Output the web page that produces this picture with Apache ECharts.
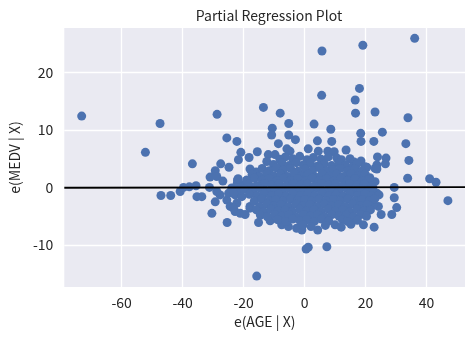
<!DOCTYPE html>
<html>
<head>
<meta charset="utf-8">
<title>Partial Regression Plot</title>
<script src="https://cdn.jsdelivr.net/npm/echarts@6/dist/echarts.min.js"></script>
<style>
  html, body { margin: 0; padding: 0; background: #ffffff; }
  #chart { width: 474px; height: 339px; }
</style>
</head>
<body>
<div id="chart"></div>
<script>
// Residual pairs [e(AGE | X), e(MEDV | X)], grouped by region of the plot.
const upperPoints = [
  [-73.1, 12.4], [-47.4, 11.1], [-52.2, 6.1], [-36.8, 4.1], [-28.7, 12.7],
  [5.7, 23.7], [5.6, 16.0], [-13.5, 13.9], [-8.0, 12.9], [-5.2, 11.1],
  [3.1, 11.0], [8.6, 10.1], [-10.6, 10.3], [-10.8, 9.1], [-25.5, 8.6],
  [-22.2, 8.0], [-5.2, 9.1], [-3.0, 8.3], [-8.6, 7.6], [4.2, 8.1],
  [8.9, 8.0], [-20.9, 6.1], [-15.5, 6.2], [-18.2, 5.2], [-21.7, 4.8],
  [-27.5, 4.1], [-5.8, 6.7], [-4.8, 6.3], [1.2, 6.7], [4.5, 6.3],
  [7.6, 6.3], [-11.9, 5.7], [-9.7, 5.7], [-24.8, 3.5], [-29.3, 2.9],
  [-12.4, 4.5], [-17.9, 3.2], [-15.9, 2.7]
];
const rightPoints = [
  [36.1, 25.9], [19.1, 24.7], [18.0, 17.2], [16.6, 15.2], [16.7, 12.9],
  [23.1, 13.1], [33.9, 12.1], [25.5, 9.6], [18.4, 9.4], [18.5, 8.0],
  [22.7, 8.0], [33.2, 7.6], [13.6, 6.5], [9.7, 6.2], [10.6, 5.1],
  [23.9, 5.3], [26.7, 5.1], [18.5, 4.6], [34.2, 4.7], [26.5, 4.1],
  [20.4, 3.5], [23.1, 3.3], [41.0, 1.5], [33.8, 1.6], [43.1, 0.9],
  [47.0, -2.3], [29.4, 0.0], [29.4, -1.8], [30.2, -3.5], [28.6, -4.7],
  [25.1, -4.7], [22.8, -6.9], [19.3, -6.5], [15.2, -6.4], [10.0, -6.5],
  [4.3, -7.4], [-0.9, -7.4], [23.7, -1.0], [24.2, -3.3], [23.1, 1.0],
  [24.4, -1.3], [22.6, -3.0], [23.7, 3.9], [23.7, 3.2], [19.8, 3.6],
  [22.0, 1.0]
];
const leftPoints = [
  [-47.1, -1.4], [-43.9, -1.4], [-40.8, -0.7], [-39.7, 0.0], [-37.8, 0.1],
  [-35.6, 0.3], [-35.3, -1.6], [-33.7, -1.6], [-31.2, 0.0], [-31.0, 1.8],
  [-28.8, 1.9], [-26.8, 1.1], [-29.3, -2.5], [-27.7, -1.3], [-25.5, -2.2],
  [-30.4, -4.5], [-25.4, -6.1], [-24.4, -3.3], [-22.8, -4.2], [-21.1, -4.5],
  [-19.5, -4.7], [-23.9, -0.1], [-22.8, -1.3], [-20.6, -1.6], [-20.1, 0.4],
  [-22.0, 1.3], [-17.9, -3.3], [-15.1, -6.1], [-11.3, -5.8], [-7.5, -6.5],
  [-5.3, -6.8], [-2.6, -7.1], [-24.9, -1.0], [-22.1, 0.7], [-21.1, -0.4],
  [-18.9, 1.3], [-17.9, 0.1], [-28.8, -0.7], [-23.3, -1.0], [-22.2, -2.7],
  [-23.3, -3.6], [-17.9, -3.6]
];
const lowerPoints = [
  [-15.7, -15.4], [1.2, -10.4], [0.5, -10.7], [7.3, -10.3]
];
const corePoints = [
  [-8.1, 4.9], [-6.3, 5.3], [-3.9, 5.0], [-1.6, 5.4], [0.8, 4.8],
  [2.9, 5.2], [5.4, 4.9], [7.8, 5.3], [12.1, 4.8], [14.9, 5.0], [16.3, 4.4],
  [-10.2, 4.0], [-7.4, 4.2], [-5.1, 3.8],
  [-2.7, 4.3], [-0.4, 3.9], [1.9, 4.2], [4.2, 3.7], [6.5, 4.1], [8.9, 3.8],
  [11.3, 4.2], [13.4, 3.9], [15.8, 3.6], [17.2, 4.1],
  [-13.9, 3.3], [-11.6, 2.9], [-9.3, 3.4], [-7.0, 3.0],
  [-4.6, 3.3], [-2.2, 2.8], [0.3, 3.2], [2.6, 2.9], [4.9, 3.4], [7.1, 2.8],
  [9.4, 3.1], [11.8, 3.3], [14.1, 2.9], [16.5, 3.2], [18.6, 2.8],
  [-17.2, 2.3], [-14.8, 1.9], [-12.4, 2.4], [-10.1, 2.0],
  [-7.9, 2.3], [-5.6, 1.9], [-3.3, 2.4], [-1.1, 2.0], [1.2, 2.3], [3.6, 1.8],
  [5.8, 2.4], [8.2, 2.0], [10.5, 2.3], [12.9, 1.9], [15.2, 2.4], [17.6, 2.0],
  [19.9, 2.3], [21.4, 1.7],
  [-21.8, 1.5], [-19.0, 1.2], [-16.4, 1.6], [-13.9, 1.3], [-11.5, 1.5], [-9.2, 1.1],
  [-6.8, 1.6], [-4.5, 1.2], [-2.1, 1.5], [0.2, 1.1], [2.5, 1.6], [4.8, 1.2],
  [7.2, 1.5], [9.5, 1.1], [11.9, 1.6], [14.2, 1.2], [16.6, 1.5], [18.9, 1.1],
  [21.1, 1.4],
  [-18.4, 0.6], [-15.7, 0.3], [-13.2, 0.7], [-10.8, 0.4], [-8.4, 0.6], [-6.0, 0.3],
  [-3.7, 0.7], [-1.4, 0.4], [0.9, 0.6], [3.2, 0.2], [5.5, 0.7], [7.9, 0.4],
  [10.2, 0.6], [12.6, 0.3], [14.9, 0.7], [17.3, 0.4], [19.6, 0.6], [21.9, 0.2],
  [-19.8, -0.3], [-16.9, -0.5], [-14.5, -0.2], [-12.1, -0.6], [-9.7, -0.3], [-7.3, -0.5],
  [-5.0, -0.2], [-2.6, -0.6], [-0.3, -0.3], [2.0, -0.5], [4.4, -0.2], [6.7, -0.6],
  [9.1, -0.3], [11.4, -0.5], [13.8, -0.2], [16.1, -0.6], [18.5, -0.3], [20.8, -0.5],
  [22.4, -0.1],
  [-18.1, -1.2], [-15.6, -1.5], [-13.3, -1.1], [-10.9, -1.4], [-8.5, -1.2], [-6.1, -1.5],
  [-3.8, -1.1], [-1.4, -1.4], [0.9, -1.2], [3.3, -1.5], [5.6, -1.1], [8.0, -1.4],
  [10.3, -1.2], [12.7, -1.5], [15.0, -1.1], [17.4, -1.4], [19.7, -1.2], [22.0, -1.5],
  [-16.5, -2.4], [-14.1, -2.0], [-11.7, -2.3], [-9.4, -2.1], [-7.0, -2.4],
  [-4.6, -2.0], [-2.3, -2.3], [0.1, -2.1], [2.4, -2.4], [4.8, -2.0], [7.1, -2.3],
  [9.5, -2.1], [11.8, -2.4], [14.2, -2.0], [16.5, -2.3], [18.9, -2.1], [21.2, -2.4],
  [23.0, -2.0],
  [-14.7, -3.3], [-12.3, -2.9], [-10.0, -3.2], [-7.6, -3.0], [-5.3, -3.3],
  [-2.9, -2.9], [-0.6, -3.2], [1.8, -3.0], [4.1, -3.3], [6.5, -2.9], [8.8, -3.2],
  [11.2, -3.0], [13.5, -3.3], [15.9, -2.9], [18.2, -3.2], [20.6, -3.0],
  [-15.8, -3.9], [-13.4, -4.2], [-11.0, -3.8], [-8.7, -4.1], [-6.3, -3.9], [-4.0, -4.2],
  [-1.6, -3.8], [0.7, -4.1], [3.1, -3.9], [5.4, -4.2], [7.8, -3.8], [10.1, -4.1],
  [12.5, -3.9], [14.8, -4.2], [17.2, -3.8], [19.5, -4.1], [21.6, -3.9],
  [-14.5, -4.8], [-12.2, -5.1], [-9.8, -4.7], [-7.5, -5.0], [-5.1, -4.8], [-2.8, -5.1],
  [-0.4, -4.7], [1.9, -5.0], [4.3, -4.8], [6.6, -5.1], [9.0, -4.7], [11.3, -5.0],
  [13.7, -4.8], [16.0, -5.1], [18.4, -4.7], [20.3, -5.0],
  [-8.9, -5.6], [-6.2, -5.9], [-3.9, -5.5], [-1.5, -5.8], [0.8, -5.6], [3.2, -5.9],
  [5.5, -5.5], [7.9, -5.8], [12.4, -5.6], [14.1, -5.9], [17.3, -5.7],
  [-0.5, -6.5], [2.1, -6.8], [6.8, -6.6], [12.0, -6.9]
];

// Axis ranges and tick values
const xRange = [-78.8, 52.6];
const yRange = [-17.3, 27.7];
const xTicks = [-60, -40, -20, 0, 20, 40];
const yTicks = [-10, 0, 10, 20];

// OLS fit of the residuals
const fitIntercept = 0.0;
const fitSlope = 0.0007;

const residuals = [].concat(upperPoints, rightPoints, leftPoints, lowerPoints, corePoints);
const fitLine = xRange.map(x => [x, fitIntercept + fitSlope * x]);

const chart = echarts.init(document.getElementById('chart'), null, { renderer: 'canvas' });
const textColor = '#262626';
const fontFamily = '"Noto Sans CJK KR", "Noto Sans", sans-serif';

chart.setOption({
  animation: false,
  backgroundColor: '#ffffff',
  title: {
    text: 'Partial Regression Plot',
    left: 264, top: 4,
    textAlign: 'center',
    textStyle: { fontSize: 14, fontWeight: 'normal', color: textColor, fontFamily: fontFamily }
  },
  grid: {
    left: 64, right: 9, top: 28, bottom: 52,
    show: true, backgroundColor: '#EAEAF2', borderWidth: 0
  },
  xAxis: {
    type: 'value',
    min: xRange[0], max: xRange[1],
    name: 'e(AGE | X)',
    nameLocation: 'middle',
    nameGap: 27,
    nameTextStyle: { fontSize: 14, color: textColor, fontFamily: fontFamily },
    axisLine: { show: false },
    axisTick: { show: false, customValues: xTicks },
    axisLabel: { customValues: xTicks, margin: 9, fontSize: 14, color: textColor, fontFamily: fontFamily },
    splitLine: { show: true, lineStyle: { color: '#ffffff', width: 1.3 } }
  },
  yAxis: {
    type: 'value',
    min: yRange[0], max: yRange[1],
    name: 'e(MEDV | X)',
    nameLocation: 'middle',
    nameGap: 42,
    nameTextStyle: { fontSize: 14, color: textColor, fontFamily: fontFamily },
    axisLine: { show: false },
    axisTick: { show: false, customValues: yTicks },
    axisLabel: { customValues: yTicks, margin: 11, fontSize: 14, color: textColor, fontFamily: fontFamily },
    splitLine: { show: true, lineStyle: { color: '#ffffff', width: 1.3 } }
  },
  series: [
    {
      type: 'scatter',
      data: residuals,
      symbol: 'circle',
      symbolSize: 9,
      itemStyle: { color: '#4C72B0', opacity: 1 },
      z: 2
    },
    {
      type: 'line',
      data: fitLine,
      symbol: 'none',
      lineStyle: { color: '#000000', width: 1.8 },
      z: 3
    }
  ]
});
</script>
</body>
</html>
